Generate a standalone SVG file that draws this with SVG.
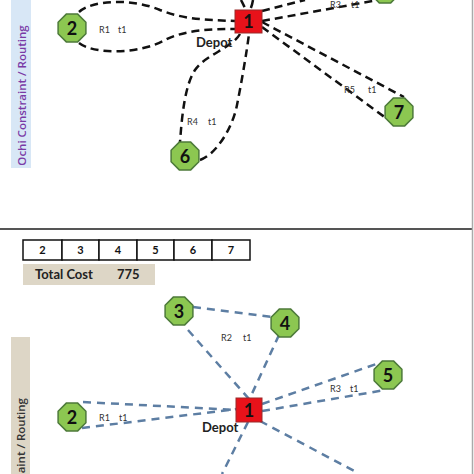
<svg xmlns="http://www.w3.org/2000/svg" xmlns:xlink="http://www.w3.org/1999/xlink" width="474" height="474" viewBox="0 0 474 474">
<style>
.oct{fill:#8cc751;stroke:#4d7a3a;stroke-width:1.5}
.dep{fill:#e8121a;stroke:#9a2a2a;stroke-width:1}
.num{font-family:Lato,"Open Sans",sans-serif;font-weight:700;font-size:18px;fill:#111;text-anchor:middle}
.lbl{font-family:Lato,"Open Sans",sans-serif;font-size:9px;fill:#333}
.depot{font-family:Lato,"Open Sans",sans-serif;font-weight:700;font-size:13px;fill:#222}
.blk{fill:none;stroke:#111;stroke-width:2.5;stroke-dasharray:8 5}
.blu{fill:none;stroke:#5d7ea3;stroke-width:2.5;stroke-dasharray:8 6}
.cell{fill:#fff;stroke:#111;stroke-width:1.5}
.ct{font-family:Lato,"Open Sans",sans-serif;font-weight:700;font-size:11px;fill:#111;text-anchor:middle}
.side{font-family:"Open Sans",Lato,sans-serif;font-weight:600;font-size:11.5px}
</style>
<defs>
<polygon id="octp" points="5.7,-13.9 13.9,-5.7 13.9,5.7 5.7,13.9 -5.7,13.9 -13.9,5.7 -13.9,-5.7 -5.7,-13.9"/>
</defs>
<rect width="474" height="474" fill="#fff"/>
<line x1="0" y1="229" x2="472" y2="229" stroke="#555" stroke-width="2"/>
<line x1="472.5" y1="0" x2="472.5" y2="474" stroke="#aaa" stroke-width="1.5"/>
<g id="side-top">
<rect x="11" y="0" width="20" height="168" fill="#d8e7f6"/>
<text class="side" fill="#7a3aa6" text-anchor="middle" transform="translate(25.5,95.5) rotate(-90)">Ochi Constraint / Routing</text>
</g>
<g id="side-bottom">
<rect x="11" y="337" width="19" height="137" fill="#ddd6c6"/>
<text class="side" fill="#333" text-anchor="end" transform="translate(25,398) rotate(-90)">aint / Routing</text>
</g>
<g id="table">
<rect class="cell" x="23" y="240" width="39" height="20"/>
<rect class="cell" x="62" y="240" width="37" height="20"/>
<rect class="cell" x="99" y="240" width="38" height="20"/>
<rect class="cell" x="137" y="240" width="37" height="20"/>
<rect class="cell" x="174" y="240" width="38" height="20"/>
<rect class="cell" x="212" y="240" width="38" height="20"/>
<text class="ct" x="42.5" y="254">2</text>
<text class="ct" x="80.5" y="254">3</text>
<text class="ct" x="118" y="254">4</text>
<text class="ct" x="155.5" y="254">5</text>
<text class="ct" x="193" y="254">6</text>
<text class="ct" x="231" y="254">7</text>
</g>
<g id="total-cost">
<rect x="23" y="264" width="132" height="21" fill="#ddd6c6"/>
<text x="35" y="279" font-family="Lato,'Open Sans',sans-serif" font-weight="700" font-size="13" fill="#222">Total Cost</text>
<text x="117" y="279" font-family="Lato,'Open Sans',sans-serif" font-weight="700" font-size="13" fill="#222">775</text>
</g>
<g id="connectors">
<path class="blk" d="M79,12 C92,0 132,-2 160,10 C185,20 210,20 235,21"/>
<path class="blk" d="M79,43 C95,55 140,54 165,40 C185,30 210,29 235,29"/>
<path class="blk" d="M240,34 C232,48 205,55 195,70 C185,85 182,115 180,142"/>
<path class="blk" d="M200,160 C215,155 232,130 237,105 C242,80 247,50 249,34"/>
<path class="blk" d="M241,0 L246,10"/>
<path class="blk" d="M253,0 Q252,6 250,10"/>
<path class="blk" d="M262,11 L305,0"/>
<path class="blk" d="M262,21 L378,0"/>
<path class="blk" d="M262,22 L404,97"/>
<path class="blk" d="M262,27 L390,121"/>
<path class="blu" d="M193,307 L272,317"/>
<path class="blu" d="M188,330 L249,399"/>
<path class="blu" d="M279,335 L250,398"/>
<path class="blu" d="M262,404 L379,363"/>
<path class="blu" d="M262,411 L385,390"/>
<path class="blu" d="M83,402 L237,410"/>
<path class="blu" d="M82,428 L237,409"/>
<path class="blu" d="M248,422 L222,474"/>
<path class="blu" d="M260,421 L358,473"/>
</g>
<g id="t-node1"><rect class="dep" x="235" y="10" width="27" height="23"/><text class="num" x="248.5" y="28">1</text></g>
<g id="t-node2"><use xlink:href="#octp" class="oct" x="72" y="28"/><text class="num" x="72" y="34.5">2</text></g>
<g id="t-node5"><use xlink:href="#octp" class="oct" x="385" y="-11"/></g>
<g id="t-node6"><use xlink:href="#octp" class="oct" x="185" y="156"/><text class="num" x="185" y="162.5">6</text></g>
<g id="t-node7"><use xlink:href="#octp" class="oct" x="399" y="112"/><text class="num" x="399" y="118.5">7</text></g>
<g id="t-labels">
<text class="depot" x="196" y="47">Depot</text>
<text class="lbl" x="99" y="33">R1</text><text class="lbl" x="118" y="33">t1</text>
<text class="lbl" x="187" y="125">R4</text><text class="lbl" x="208" y="125">t1</text>
<text class="lbl" x="344" y="93">R5</text><text class="lbl" x="368" y="93">t1</text>
<text class="lbl" x="330" y="8" font-size="8">R3</text><text class="lbl" x="351" y="8" font-size="8">t1</text>
</g>
<g id="b-node1"><rect class="dep" x="236" y="398" width="26" height="24"/><text class="num" x="249" y="416.5">1</text></g>
<g id="b-node2"><use xlink:href="#octp" class="oct" x="72" y="417"/><text class="num" x="72" y="423.5">2</text></g>
<g id="b-node3"><use xlink:href="#octp" class="oct" x="179" y="311"/><text class="num" x="179" y="317.5">3</text></g>
<g id="b-node4"><use xlink:href="#octp" class="oct" x="285" y="323"/><text class="num" x="285" y="329.5">4</text></g>
<g id="b-node5"><use xlink:href="#octp" class="oct" x="388" y="375"/><text class="num" x="388" y="381.5">5</text></g>
<g id="b-labels">
<text class="depot" x="202" y="432">Depot</text>
<text class="lbl" x="99" y="421">R1</text><text class="lbl" x="119" y="421">t1</text>
<text class="lbl" x="221" y="341">R2</text><text class="lbl" x="243" y="341">t1</text>
<text class="lbl" x="330" y="392">R3</text><text class="lbl" x="350" y="392">t1</text>
</g>
</svg>
